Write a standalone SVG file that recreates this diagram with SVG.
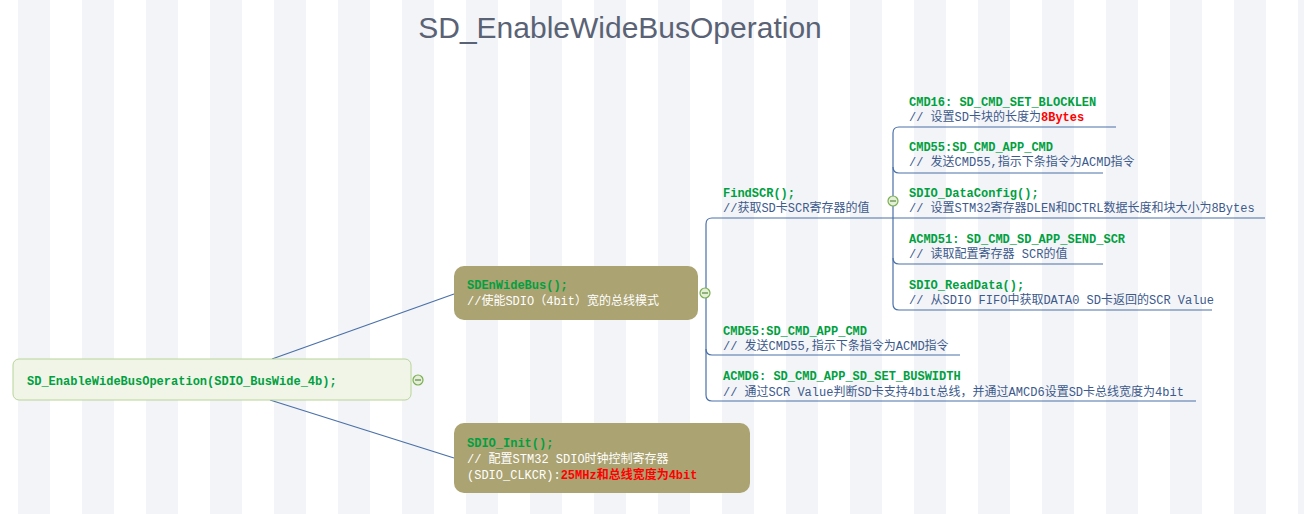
<svg xmlns="http://www.w3.org/2000/svg" width="1304" height="514" viewBox="0 0 1304 514">
<defs>
<pattern id="stripes" x="18" y="0" width="64" height="514" patternUnits="userSpaceOnUse">
<rect x="0" y="0" width="32" height="514" fill="#f3f4f7"/>
</pattern>
</defs>
<style>
text{font-family:"Liberation Mono","Noto Sans CJK SC",monospace;font-size:12px}
.g{fill:#00a040;font-weight:bold}
.c{fill:#3c5a8c}
.w{fill:#ffffff}
.r{fill:#ff0000;font-weight:bold}
.ln{fill:none;stroke:#4a70a8;stroke-width:1.2}
.tog{fill:#e4eed8;stroke:#7ab050;stroke-width:1.2}
.tb{stroke:#5a8a40;stroke-width:1.2}
</style>
<rect width="1304" height="514" fill="#ffffff"/>
<rect width="1304" height="514" fill="url(#stripes)"/>
<text x="620" y="38" text-anchor="middle" style="font-family:'Liberation Sans',sans-serif;font-size:30px;fill:#5a6275">SD_EnableWideBusOperation</text>
<g id="connectors">
<line class="ln" x1="272" y1="359" x2="454" y2="294"/>
<line class="ln" x1="270" y1="400" x2="454" y2="458"/>
<path class="ln" d="M1265 218 H712 Q706 218 706 224 V395 Q706 401 712 401 H1196"/>
<path class="ln" d="M706 349 Q706 355 712 355 H960"/>
<path class="ln" d="M1116 127 H899 Q893 127 893 133 V304 Q893 310 899 310 H1212"/>
<path class="ln" d="M893 167 Q893 173 899 173 H1103"/>
<path class="ln" d="M893 258 Q893 264 899 264 H1103"/>
</g>
<g id="root">
<rect x="13" y="359" width="398" height="41" rx="6" fill="#f0f5e8" stroke="#b8d498"/>
<text x="27" y="385" class="g">SD_EnableWideBusOperation(SDIO_BusWide_4b);</text>
<circle cx="418" cy="380" r="5" class="tog"/><line x1="415" y1="380" x2="421" y2="380" class="tb"/>
</g>
<g id="sdenwidebus">
<rect x="454" y="266" width="244" height="54" rx="10" fill="#aba372"/>
<text x="467" y="289" class="g">SDEnWideBus();</text>
<text x="467" y="305" class="w">//使能SDIO（4bit）宽的总线模式</text>
<circle cx="705" cy="293" r="5" class="tog"/><line x1="702" y1="293" x2="708" y2="293" class="tb"/>
</g>
<g id="sdioinit">
<rect x="454" y="423" width="296" height="70" rx="10" fill="#aba372"/>
<text x="467" y="447" class="g">SDIO_Init();</text>
<text x="467" y="463" class="w">// 配置STM32 SDIO时钟控制寄存器</text>
<text x="467" y="479" class="w">(SDIO_CLKCR):<tspan class="r">25MHz和总线宽度为4bit</tspan></text>
</g>
<g id="findscr">
<text x="723" y="197" class="g">FindSCR();</text>
<text x="723" y="212" class="c">//获取SD卡SCR寄存器的值</text>
<circle cx="893" cy="201" r="5" class="tog"/><line x1="890" y1="201" x2="896" y2="201" class="tb"/>
</g>
<g id="cmd16">
<text x="909" y="106" class="g">CMD16: SD_CMD_SET_BLOCKLEN</text>
<text x="909" y="121" class="c">// 设置SD卡块的长度为<tspan class="r">8Bytes</tspan></text>
</g>
<g id="cmd55a">
<text x="909" y="151" class="g">CMD55:SD_CMD_APP_CMD</text>
<text x="909" y="166" class="c">// 发送CMD55,指示下条指令为ACMD指令</text>
</g>
<g id="dataconfig">
<text x="909" y="197" class="g">SDIO_DataConfig();</text>
<text x="909" y="212" class="c">// 设置STM32寄存器DLEN和DCTRL数据长度和块大小为8Bytes</text>
</g>
<g id="acmd51">
<text x="909" y="243" class="g">ACMD51: SD_CMD_SD_APP_SEND_SCR</text>
<text x="909" y="258" class="c">// 读取配置寄存器 SCR的值</text>
</g>
<g id="readdata">
<text x="909" y="289" class="g">SDIO_ReadData();</text>
<text x="909" y="304" class="c">// 从SDIO FIFO中获取DATA0 SD卡返回的SCR Value</text>
</g>
<g id="cmd55b">
<text x="723" y="335" class="g">CMD55:SD_CMD_APP_CMD</text>
<text x="723" y="350" class="c">// 发送CMD55,指示下条指令为ACMD指令</text>
</g>
<g id="acmd6">
<text x="723" y="380" class="g">ACMD6: SD_CMD_APP_SD_SET_BUSWIDTH</text>
<text x="723" y="396" class="c">// 通过SCR Value判断SD卡支持4bit总线，并通过AMCD6设置SD卡总线宽度为4bit</text>
</g>
</svg>
